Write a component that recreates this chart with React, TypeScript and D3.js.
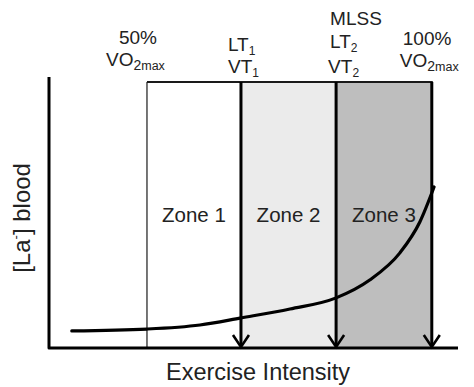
import * as d3 from "d3"

// exercise intensity (% VO2max) at the zone boundaries
const zoneBounds = [50, 66.5, 83.2, 100]
const zoneNames = ["Zone 1", "Zone 2", "Zone 3"]

// blood lactate curve
const curveIntensity = [36.8, 50, 59.3, 66.5, 75.1, 83.2, 89.1, 94.4, 97.9, 100.4]
const curveLactate = [0.63, 0.7, 0.85, 1.11, 1.44, 1.85, 2.51, 3.51, 4.65, 5.94]

const xTitle = "Exercise Intensity"

const W = 474
const H = 387
const zoneFill = ["#ffffff", "#ebebeb", "#bebebe"]
const font = "'Liberation Sans', Arial, sans-serif"
const ink = "#1a1a1a"

export default function App() {
    const x = d3.scaleLinear().domain([32.8, 104.6]).range([49, 458])
    const y = d3.scaleLinear().domain([0, 10]).range([348, 77])
    const top = 82
    const base = y(0)

    const pts = curveIntensity.map((v, i) => [v, curveLactate[i]] as [number, number])
    const line = d3
        .line<[number, number]>()
        .x((d) => x(d[0]))
        .y((d) => y(d[1]))
        .curve(d3.curveMonotoneX)

    const arrow = (cx: number) =>
        `M${cx - 8},${base - 13} L${cx},${base - 1} L${cx + 8},${base - 13}`

    const sub = (t: string, size = 12) => (
        <tspan fontSize={size} dy={4}>{t}</tspan>
    )

    return (
        <svg width={W} height={H} style={{ position: "absolute", left: 0, top: 0, background: "#fff" }}
            fontFamily={font} fill={ink}>
            {/* zone bands */}
            {zoneNames.map((z, i) => (
                <rect key={z} x={x(zoneBounds[i])} y={top} width={x(zoneBounds[i + 1]) - x(zoneBounds[i])}
                    height={base - top} fill={zoneFill[i]} />
            ))}
            <line x1={x(zoneBounds[0])} x2={x(zoneBounds[3]) + 1} y1={top} y2={top} stroke={ink} strokeWidth={2} />
            <line x1={x(zoneBounds[0])} x2={x(zoneBounds[0])} y1={top} y2={base} stroke={ink} strokeWidth={1.2} />

            {zoneNames.map((z, i) => (
                <text key={z} x={(x(zoneBounds[i]) + x(zoneBounds[i + 1])) / 2} y={222} fontSize={20.5}
                    textAnchor="middle" fill="#222">{z}</text>
            ))}

            {/* lactate curve */}
            <path d={line(pts) ?? ""} fill="none" stroke="#000" strokeWidth={3.2} strokeLinecap="round" />

            {/* threshold arrows */}
            {zoneBounds.slice(1).map((b) => (
                <g key={b} stroke="#000" fill="none" strokeWidth={3}>
                    <line x1={x(b)} x2={x(b)} y1={top} y2={base - 2} />
                    <path d={arrow(x(b))} strokeWidth={2.6} strokeLinejoin="miter" />
                </g>
            ))}

            {/* axes */}
            <path d={`M49,77 L49,${base} L458,${base}`} fill="none" stroke="#000" strokeWidth={3} strokeLinejoin="round" />

            <text x={x(69.5)} y={380} fontSize={23.5} textAnchor="middle" fill="#222">{xTitle}</text>
            <text transform={`translate(30,${y(4.8)}) rotate(-90)`} fontSize={24} textAnchor="middle" fill="#222">
                [La<tspan fontSize={13} dy={-10}>-</tspan><tspan dy={10}>] blood</tspan>
            </text>

            {/* threshold labels */}
            <g fontSize={19} fill="#222">
                <text x={x(zoneBounds[0]) - 28} y={44}>50%</text>
                <text x={x(zoneBounds[0]) - 41} y={66}>VO{sub("2", 14)}<tspan fontSize={12.5}>max</tspan></text>

                <text x={x(zoneBounds[1]) - 13} y={51}>LT{sub("1")}</text>
                <text x={x(zoneBounds[1]) - 13} y={73}>VT{sub("1")}</text>

                <text x={x(zoneBounds[2]) - 6} y={25}>MLSS</text>
                <text x={x(zoneBounds[2]) - 6} y={48}>LT{sub("2")}</text>
                <text x={x(zoneBounds[2]) - 8} y={73}>VT{sub("2")}</text>

                <text x={x(zoneBounds[3]) - 29} y={45}>100%</text>
                <text x={x(zoneBounds[3]) - 32} y={67}>VO{sub("2", 14)}<tspan fontSize={12.5}>max</tspan></text>
            </g>
        </svg>
    )
}
